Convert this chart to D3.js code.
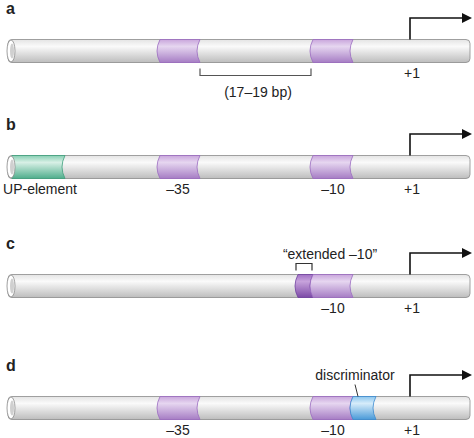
<!DOCTYPE html>
<html><head><meta charset="utf-8">
<script src="https://cdn.jsdelivr.net/npm/d3@7"></script>
<style>body{margin:0;background:#fff}text{font-family:"Liberation Sans",Arial,sans-serif;fill:#222}</style>
</head><body>
<script>
// panel letters and tube centre lines
var panels = ["a", "b", "c", "d"];
var tubeY = [51, 167, 286, 408];
// boxes per panel: [panel, x0, x1, colour]
var boxes = [
  ["a", 160, 200, "purple"], ["a", 313, 353, "purple"],
  ["b", 12, 65, "green"], ["b", 160, 200, "purple"], ["b", 313, 353, "purple"],
  ["c", 298, 313, "darkpurple"], ["c", 313, 353, "purple"],
  ["d", 160, 200, "purple"], ["d", 313, 353, "purple"], ["d", 353, 376, "blue"]
];
// labels under tube: [panel, x, text]
var labels = [
  ["a", 412, "+1"],
  ["b", 40, "UP-element"], ["b", 178, "\u201335"], ["b", 333, "\u201310"], ["b", 412, "+1"],
  ["c", 333, "\u201310"], ["c", 412, "+1"],
  ["d", 178, "\u201335"], ["d", 333, "\u201310"], ["d", 412, "+1"]
];

var W = 474, H = 438, R = 11.5, x0 = 8, x1 = 470;
var svg = d3.select("body").append("svg").attr("width", W).attr("height", H);
var y = d3.scaleOrdinal().domain(panels).range(tubeY);
var colours = {
  purple: ["#e6d6f0", "#c9a6dc", "#a67dc4", "#9b6bc0"],
  darkpurple: ["#c7a3dc", "#a070c4", "#7c4aa6", "#7040a0"],
  green: ["#d8f0e6", "#88cfb3", "#4fae8c", "#3ea07c"],
  blue: ["#d6ecfa", "#8cc6ee", "#4a9ad8", "#3a8ad0"],
  grey: ["#fafafa", "#e4e4e4", "#bdbdbd", "#8a8a8a"]
};
var defs = svg.append("defs");
Object.keys(colours).forEach(function(k) {
  var c = colours[k];
  var g = defs.append("linearGradient").attr("id", "g-" + k).attr("x1", 0).attr("x2", 0).attr("y1", 0).attr("y2", 1);
  g.append("stop").attr("offset", "0%").attr("stop-color", c[1]);
  g.append("stop").attr("offset", "30%").attr("stop-color", c[0]);
  g.append("stop").attr("offset", "100%").attr("stop-color", c[2]);
});

panels.forEach(function(p) {
  var cy = y(p);
  var g = svg.append("g");
  g.append("text").attr("x", 6).attr("y", cy - 37).attr("font-size", 16).attr("font-weight", "bold").text(p);
  // tube body
  g.append("rect").attr("x", x0).attr("y", cy - R).attr("width", x1 - x0).attr("height", 2 * R)
    .attr("rx", 4).attr("fill", "url(#g-grey)").attr("stroke", "#8a8a8a").attr("stroke-width", 0.8);
  boxes.filter(function(b) { return b[0] === p; }).forEach(function(b) {
    var c = colours[b[3]];
    g.append("path")
      .attr("d", "M" + b[1] + "," + (cy - R) + "Q" + (b[1] - 6) + "," + cy + " " + b[1] + "," + (cy + R) +
        "L" + b[2] + "," + (cy + R) + "Q" + (b[2] - 6) + "," + cy + " " + b[2] + "," + (cy - R) + "Z")
      .attr("fill", "url(#g-" + b[3] + ")").attr("stroke", c[3]).attr("stroke-width", 0.8);
  });
  // open end
  g.append("ellipse").attr("cx", x0 + 3).attr("cy", cy).attr("rx", 4).attr("ry", R - 0.5)
    .attr("fill", "#fff").attr("stroke", "#8a8a8a").attr("stroke-width", 0.8);
  g.append("ellipse").attr("cx", x0 + 4).attr("cy", cy).attr("rx", 2).attr("ry", R - 4)
    .attr("fill", "#d0d0d0");
  // transcription start arrow
  g.append("path").attr("d", "M410," + (cy - R) + "V" + (cy - 33) + "H463")
    .attr("fill", "none").attr("stroke", "#111").attr("stroke-width", 1.6);
  g.append("path").attr("d", "M472," + (cy - 33) + "l-10,-5v10z").attr("fill", "#111");
  labels.filter(function(l) { return l[0] === p; }).forEach(function(l) {
    g.append("text").attr("x", l[1]).attr("y", cy + R + 15).attr("text-anchor", "middle")
      .attr("font-size", 14).text(l[2]);
  });
});

// spacer bracket in a
var ya = y("a");
svg.append("path").attr("d", "M200," + (ya + R + 6) + "V" + (ya + R + 13) + "H311V" + (ya + R + 6))
  .attr("fill", "none").attr("stroke", "#555").attr("stroke-width", 1.2);
svg.append("text").attr("x", 258).attr("y", ya + R + 34).attr("text-anchor", "middle").attr("font-size", 14).text("(17\u201319 bp)");
// extended -10 bracket in c
var yc = y("c");
svg.append("path").attr("d", "M296," + (yc - R - 4) + "V" + (yc - R - 11) + "H312V" + (yc - R - 4))
  .attr("fill", "none").attr("stroke", "#333").attr("stroke-width", 1.2);
svg.append("text").attr("x", 330).attr("y", yc - R - 16).attr("text-anchor", "middle").attr("font-size", 14).text("\u201cextended \u201310\u201d");
// discriminator pointer in d
var yd = y("d");
svg.append("line").attr("x1", 355).attr("x2", 358).attr("y1", yd - R - 12).attr("y2", yd - R).attr("stroke", "#333");
svg.append("text").attr("x", 355).attr("y", yd - R - 17).attr("text-anchor", "middle").attr("font-size", 14).text("discriminator");
</script>
</body></html>
